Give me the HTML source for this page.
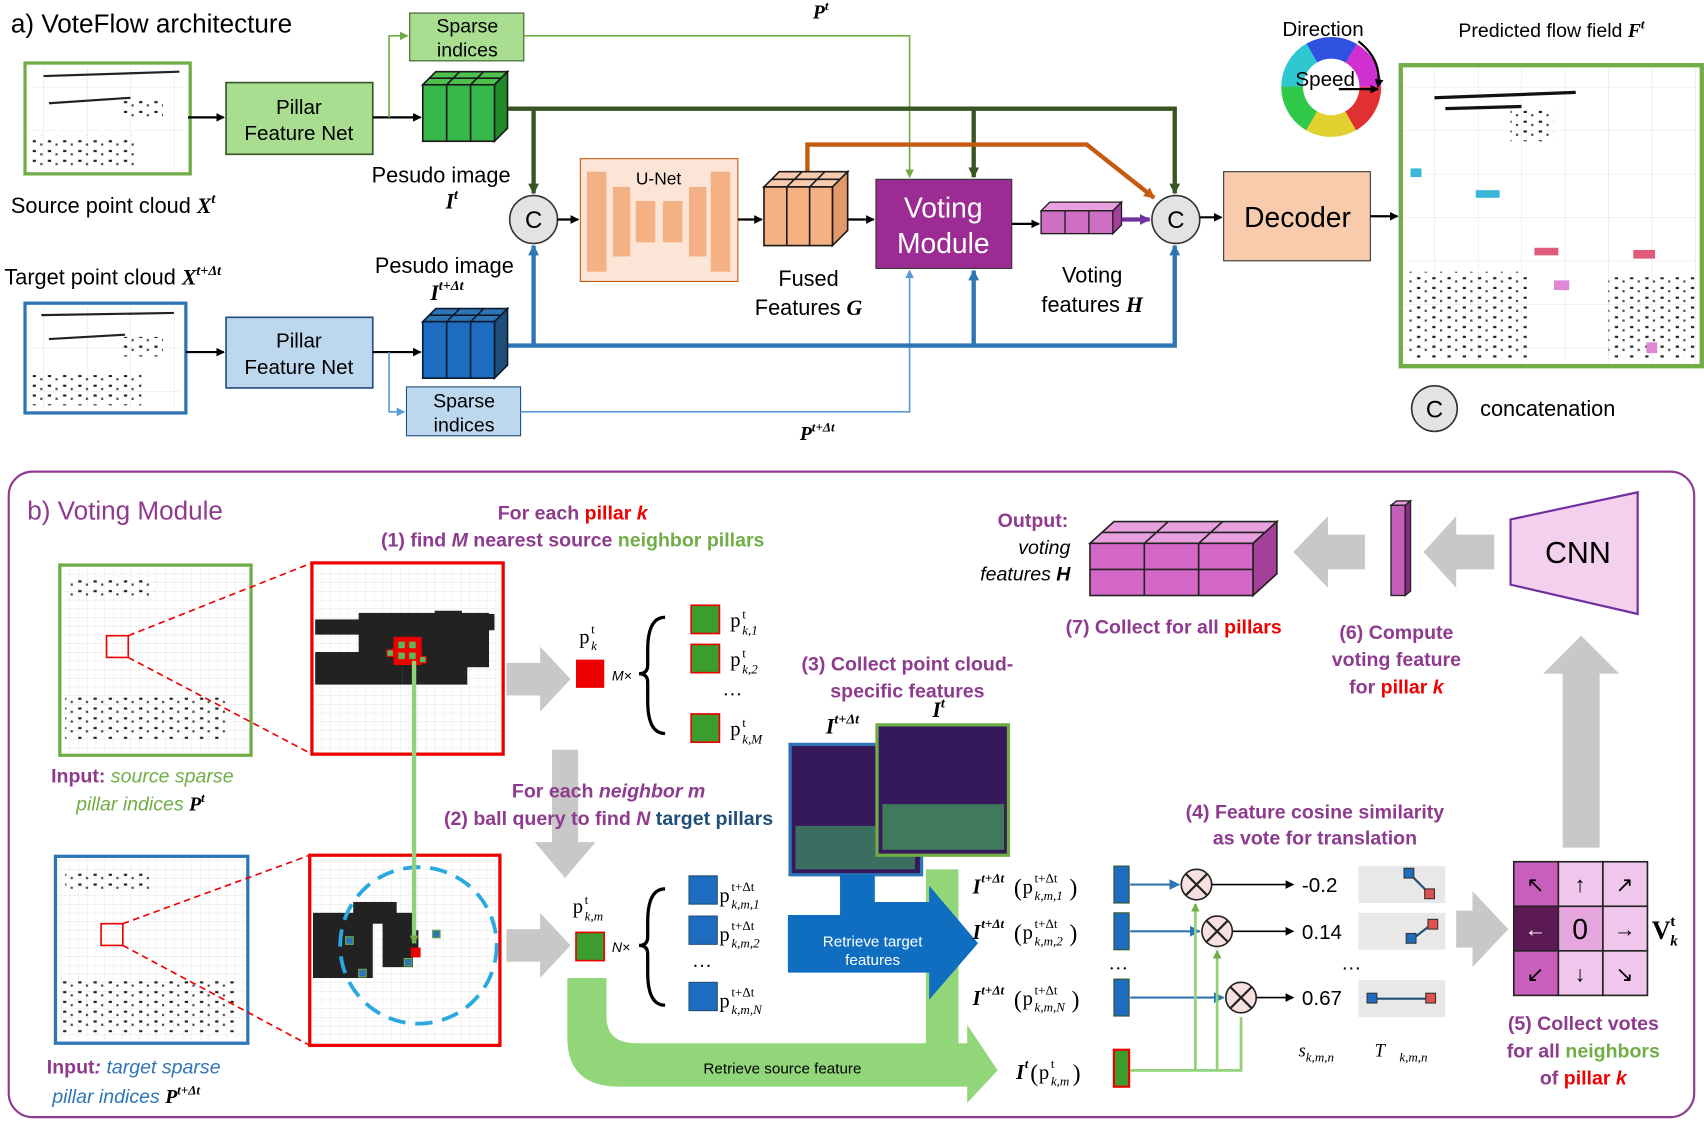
<!DOCTYPE html>
<html><head><meta charset="utf-8"><style>
html,body{margin:0;padding:0;background:#fff}
svg{display:block}
text{font-family:"Liberation Sans",sans-serif}
.s{font-family:"Liberation Serif",serif;font-style:italic;font-weight:bold}
.r{font-family:"Liberation Serif",serif}
</style></head><body>
<svg width="1704" height="1122" viewBox="0 0 1568 1032.5" xmlns="http://www.w3.org/2000/svg">
<defs>
<marker id="ak" markerWidth="8" markerHeight="8" refX="7" refY="4" orient="auto" markerUnits="userSpaceOnUse"><path d="M0,0 L8,4 L0,8z" fill="#000"/></marker>
<marker id="ag" markerWidth="10" markerHeight="10" refX="9" refY="5" orient="auto" markerUnits="userSpaceOnUse"><path d="M0,0 L10,5 L0,10z" fill="#375623"/></marker>
<marker id="ab" markerWidth="10" markerHeight="10" refX="9" refY="5" orient="auto" markerUnits="userSpaceOnUse"><path d="M0,0 L10,5 L0,10z" fill="#2e75b6"/></marker>
<marker id="alg" markerWidth="8" markerHeight="8" refX="7" refY="4" orient="auto" markerUnits="userSpaceOnUse"><path d="M0,0 L8,4 L0,8z" fill="#70ad47"/></marker>
<marker id="alb" markerWidth="8" markerHeight="8" refX="7" refY="4" orient="auto" markerUnits="userSpaceOnUse"><path d="M0,0 L8,4 L0,8z" fill="#5b9bd5"/></marker>
<marker id="ao" markerWidth="10" markerHeight="10" refX="9" refY="5" orient="auto" markerUnits="userSpaceOnUse"><path d="M0,0 L10,5 L0,10z" fill="#c55a11"/></marker>
<marker id="ap" markerWidth="10" markerHeight="10" refX="9" refY="5" orient="auto" markerUnits="userSpaceOnUse"><path d="M0,0 L10,5 L0,10z" fill="#7030a0"/></marker>
<pattern id="grid" width="8" height="8" patternUnits="userSpaceOnUse"><path d="M8,0 L0,0 0,8" fill="none" stroke="#ddd" stroke-width="0.6"/></pattern>
<pattern id="gridl" width="40" height="40" patternUnits="userSpaceOnUse"><path d="M40,0 L0,0 0,40" fill="none" stroke="#ddd" stroke-width="0.8"/></pattern>
<pattern id="dots" width="14" height="9" patternUnits="userSpaceOnUse"><rect x="2" y="3" width="3" height="2" fill="#222"/><rect x="9" y="6" width="2" height="2" fill="#444"/></pattern>
</defs>

<!-- ===== Part a ===== -->
<text x="10" y="30" font-size="24">a) VoteFlow architecture</text>

<rect x="23" y="58" width="152" height="102" fill="#fff" stroke="#70ad47" stroke-width="3"/>
<rect x="28" y="62" width="142" height="94" fill="url(#gridl)"/>
<path d="M40,70 L165,66 M45,95 L120,90" stroke="#222" stroke-width="2"/>
<rect x="30" y="125" width="95" height="28" fill="url(#dots)"/>
<rect x="110" y="90" width="40" height="20" fill="url(#dots)"/>
<text x="10" y="196" font-size="20">Source point cloud <tspan class="s">X</tspan><tspan class="s" font-size="13" dy="-9">t</tspan></text>

<rect x="23" y="279" width="148" height="101" fill="#fff" stroke="#2e75b6" stroke-width="3"/>
<rect x="28" y="283" width="138" height="93" fill="url(#gridl)"/>
<path d="M38,290 L160,288 M45,312 L115,308" stroke="#222" stroke-width="2"/>
<rect x="30" y="345" width="100" height="28" fill="url(#dots)"/>
<rect x="110" y="310" width="40" height="18" fill="url(#dots)"/>
<text x="4" y="262" font-size="20">Target point cloud <tspan class="s">X</tspan><tspan class="s" font-size="13" dy="-9">t+Δt</tspan></text>

<rect x="208" y="76" width="135" height="66" fill="#a9dd8f" stroke="#375623" stroke-width="1.5"/>
<text x="275" y="105" font-size="19" text-anchor="middle">Pillar</text><text x="275" y="129" font-size="19" text-anchor="middle">Feature Net</text>
<rect x="208" y="292" width="135" height="65" fill="#bdd7ee" stroke="#1f4e79" stroke-width="1.5"/>
<text x="275" y="320" font-size="19" text-anchor="middle">Pillar</text><text x="275" y="344" font-size="19" text-anchor="middle">Feature Net</text>
<line x1="173" y1="108" x2="206" y2="108" stroke="#000" stroke-width="2" marker-end="url(#ak)"/>
<line x1="171" y1="324" x2="206" y2="324" stroke="#000" stroke-width="2" marker-end="url(#ak)"/>
<line x1="343" y1="108" x2="387" y2="108" stroke="#000" stroke-width="2" marker-end="url(#ak)"/>
<line x1="343" y1="324" x2="387" y2="324" stroke="#000" stroke-width="2" marker-end="url(#ak)"/>

<rect x="377" y="12" width="105" height="44" fill="#a9dd8f" stroke="#375623" stroke-width="1"/>
<text x="430" y="30" font-size="18" text-anchor="middle">Sparse</text><text x="430" y="52" font-size="18" text-anchor="middle">indices</text>
<rect x="374" y="356" width="105" height="45" fill="#bdd7ee" stroke="#1f4e79" stroke-width="1"/>
<text x="427" y="375" font-size="18" text-anchor="middle">Sparse</text><text x="427" y="397" font-size="18" text-anchor="middle">indices</text>
<polyline points="358,108 358,33 375,33" fill="none" stroke="#70ad47" stroke-width="1.5" marker-end="url(#alg)"/>
<polyline points="358,324 358,379 372,379" fill="none" stroke="#5b9bd5" stroke-width="1.5" marker-end="url(#alb)"/>
<polyline points="482,33 837,33 837,163" fill="none" stroke="#70ad47" stroke-width="1.5" marker-end="url(#alg)"/>
<polyline points="479,379 837,379 837,249" fill="none" stroke="#5b9bd5" stroke-width="1.5" marker-end="url(#alb)"/>
<text x="748" y="17" class="s" font-size="18">P<tspan font-size="12" dy="-8">t</tspan></text>
<text x="736" y="405" class="s" font-size="18">P<tspan font-size="12" dy="-8">t+Δt</tspan></text>

<polyline points="467,100 1081,100 1081,178" fill="none" stroke="#375623" stroke-width="4" marker-end="url(#ag)"/>
<line x1="491" y1="100" x2="491" y2="178" stroke="#375623" stroke-width="4" marker-end="url(#ag)"/>
<line x1="896" y1="100" x2="896" y2="163" stroke="#375623" stroke-width="4" marker-end="url(#ag)"/>
<polyline points="467,318 1081,318 1081,226" fill="none" stroke="#2e75b6" stroke-width="4" marker-end="url(#ab)"/>
<line x1="491" y1="318" x2="491" y2="226" stroke="#2e75b6" stroke-width="4" marker-end="url(#ab)"/>
<line x1="896" y1="318" x2="896" y2="249" stroke="#2e75b6" stroke-width="4" marker-end="url(#ab)"/>
<polyline points="743,165 743,133 1000,133 1062,182" fill="none" stroke="#c55a11" stroke-width="4" marker-end="url(#ao)"/>

<g stroke="#1a1a1a" stroke-width="1.5">
<polygon points="389,78 401,66 467,66 455,78" fill="#4cc14c"/>
<polygon points="455,78 467,66 467,118 455,130" fill="#1f8a2a"/>
<rect x="389" y="78" width="66" height="52" fill="#38b84a"/>
<path d="M411,78 V130 M433,78 V130 M395,72 H461 M411,78 L423,66 M433,78 L445,66"/>
</g>
<g stroke="#0a1a30" stroke-width="1.5">
<polygon points="389,296 401,284 467,284 455,296" fill="#2e75b6"/>
<polygon points="455,296 467,284 467,336 455,348" fill="#1f4e79"/>
<rect x="389" y="296" width="66" height="52" fill="#1d6cc0"/>
<path d="M411,296 V348 M433,296 V348 M395,290 H461 M411,296 L423,284 M433,296 L445,284"/>
</g>
<text x="342" y="168" font-size="20">Pesudo image</text>
<text x="410" y="192" class="s" font-size="20">I<tspan font-size="13" dy="-9">t</tspan></text>
<text x="345" y="251" font-size="20">Pesudo image</text>
<text x="396" y="276" class="s" font-size="20">I<tspan font-size="13" dy="-9">t+Δt</tspan></text>

<circle cx="491" cy="202" r="22" fill="#e3e3e3" stroke="#333" stroke-width="1.5"/><text x="491" y="210" font-size="22" text-anchor="middle">C</text>
<line x1="513" y1="202" x2="532" y2="202" stroke="#000" stroke-width="2" marker-end="url(#ak)"/>

<rect x="534" y="146" width="145" height="113" fill="#fce4d6" stroke="#c55a11" stroke-width="1"/>
<text x="606" y="170" font-size="16" text-anchor="middle">U-Net</text>
<g fill="#f4b183"><rect x="540" y="158" width="18" height="92"/><rect x="564" y="172" width="16" height="64"/><rect x="585" y="185" width="18" height="38"/><rect x="610" y="185" width="18" height="38"/><rect x="634" y="172" width="16" height="64"/><rect x="654" y="158" width="18" height="92"/></g>
<line x1="679" y1="202" x2="701" y2="202" stroke="#000" stroke-width="2" marker-end="url(#ak)"/>

<g stroke="#1a1a1a" stroke-width="1.5">
<polygon points="703,172 717,158 780,158 766,172" fill="#f8cbad"/>
<polygon points="766,172 780,158 780,212 766,226" fill="#e4996a"/>
<rect x="703" y="172" width="63" height="54" fill="#f4b183"/>
<path d="M724,172 V226 M745,172 V226 M710,165 H773 M724,172 L738,158 M745,172 L759,158"/>
</g>
<line x1="780" y1="202" x2="804" y2="202" stroke="#000" stroke-width="2" marker-end="url(#ak)"/>
<text x="744" y="263" font-size="20" text-anchor="middle">Fused</text>
<text x="744" y="290" font-size="20" text-anchor="middle">Features <tspan class="s">G</tspan></text>

<rect x="806" y="165" width="125" height="82" fill="#9c2b93" stroke="#333" stroke-width="1"/>
<text x="868" y="200" font-size="26" fill="#fff" text-anchor="middle">Voting</text>
<text x="868" y="233" font-size="26" fill="#fff" text-anchor="middle">Module</text>
<line x1="931" y1="206" x2="956" y2="206" stroke="#000" stroke-width="2" marker-end="url(#ak)"/>
<g stroke="#1a1a1a" stroke-width="1.2">
<polygon points="958,194 966,186 1032,186 1024,194" fill="#e8a0df"/>
<polygon points="1024,194 1032,186 1032,207 1024,215" fill="#a5409a"/>
<rect x="958" y="194" width="66" height="21" fill="#cf6fc3"/>
<path d="M980,194 V215 M1002,194 V215"/>
</g>
<line x1="1032" y1="202" x2="1058" y2="202" stroke="#7030a0" stroke-width="4" marker-end="url(#ap)"/>
<text x="1005" y="260" font-size="20" text-anchor="middle">Voting</text>
<text x="1005" y="287" font-size="20" text-anchor="middle">features <tspan class="s">H</tspan></text>

<circle cx="1082" cy="202" r="22" fill="#e3e3e3" stroke="#333" stroke-width="1.5"/><text x="1082" y="210" font-size="22" text-anchor="middle">C</text>
<line x1="1104" y1="200" x2="1124" y2="200" stroke="#000" stroke-width="2" marker-end="url(#ak)"/>
<rect x="1126" y="158" width="135" height="82" fill="#f8cbad" stroke="#333" stroke-width="1"/>
<text x="1194" y="209" font-size="26" text-anchor="middle">Decoder</text>
<line x1="1261" y1="199" x2="1286" y2="199" stroke="#000" stroke-width="2" marker-end="url(#ak)"/>

<rect x="1289" y="60" width="277" height="277" fill="#fff" stroke="#70ad47" stroke-width="4"/>
<rect x="1292" y="63" width="271" height="271" fill="url(#gridl)"/>
<path d="M1320,90 L1450,85 M1330,100 L1400,98" stroke="#111" stroke-width="3"/>
<rect x="1295" y="250" width="110" height="80" fill="url(#dots)"/>
<rect x="1390" y="100" width="40" height="30" fill="url(#dots)"/>
<rect x="1480" y="255" width="80" height="75" fill="url(#dots)"/>
<rect x="1298" y="155" width="10" height="8" fill="#3ab7d8"/><rect x="1358" y="175" width="22" height="7" fill="#3ab7d8"/>
<rect x="1412" y="228" width="22" height="7" fill="#e05b7a"/><rect x="1503" y="230" width="20" height="8" fill="#e05b7a"/>
<rect x="1430" y="258" width="14" height="9" fill="#e088d8"/><rect x="1515" y="315" width="10" height="10" fill="#e088d8"/>
<text x="1342" y="34" font-size="18">Predicted flow field <tspan class="s">F</tspan><tspan class="s" font-size="12" dy="-8">t</tspan></text>
<text x="1180" y="33" font-size="19">Direction</text>
<g fill="none" stroke-width="20">
<circle cx="1225" cy="80" r="36" stroke="#e03030" stroke-dasharray="38 188"/>
<circle cx="1225" cy="80" r="36" stroke="#e0d030" stroke-dasharray="0 37.7 38 188"/>
<circle cx="1225" cy="80" r="36" stroke="#30c848" stroke-dasharray="0 75.4 38 188"/>
<circle cx="1225" cy="80" r="36" stroke="#30c8d0" stroke-dasharray="0 113.1 38 188"/>
<circle cx="1225" cy="80" r="36" stroke="#3050e0" stroke-dasharray="0 150.8 38 188"/>
<circle cx="1225" cy="80" r="36" stroke="#d030d0" stroke-dasharray="0 188.5 38 188"/>
</g>
<text x="1192" y="79" font-size="19">Speed</text>
<line x1="1232" y1="82" x2="1268" y2="82" stroke="#000" stroke-width="2" marker-end="url(#ak)"/>
<path d="M1250,38 Q1272,55 1268,80" fill="none" stroke="#000" stroke-width="2" marker-end="url(#ak)"/>
<circle cx="1320" cy="376" r="21" fill="#e3e3e3" stroke="#333" stroke-width="1.5"/><text x="1320" y="384" font-size="22" text-anchor="middle">C</text>
<text x="1362" y="383" font-size="20">concatenation</text>

<!-- ===== Part b ===== -->
<rect x="8" y="434" width="1551" height="594" rx="22" fill="none" stroke="#8e3a8e" stroke-width="2"/>
<text x="25" y="478" font-size="24" fill="#8e3a8e">b) Voting Module</text>

<rect x="55" y="520" width="176" height="175" fill="#fff" stroke="#70ad47" stroke-width="3"/>
<rect x="58" y="523" width="170" height="169" fill="url(#grid)"/>
<rect x="62" y="530" width="80" height="20" fill="url(#dots)"/><rect x="60" y="640" width="150" height="40" fill="url(#dots)"/>
<rect x="98" y="585" width="20" height="20" fill="none" stroke="#e00" stroke-width="1.5"/>
<path d="M118,585 L287,518 M118,605 L287,694" stroke="#e00" stroke-width="1.5" stroke-dasharray="6 4"/>
<rect x="287" y="518" width="176" height="176" fill="#fff" stroke="#e00" stroke-width="3"/>
<rect x="290" y="521" width="170" height="170" fill="url(#grid)"/>
<g fill="#222"><rect x="290" y="570" width="130" height="14"/><rect x="330" y="564" width="120" height="50"/><rect x="290" y="600" width="80" height="30"/><rect x="370" y="612" width="60" height="18"/><rect x="400" y="562" width="25" height="10"/><rect x="440" y="565" width="15" height="15"/></g>
<rect x="362" y="586" width="26" height="26" fill="#e00"/>
<g fill="#5cb85c" stroke="#e00" stroke-width="1"><rect x="366" y="590" width="7" height="7"/><rect x="376" y="590" width="7" height="7"/><rect x="366" y="600" width="7" height="7"/><rect x="376" y="600" width="7" height="7"/><rect x="386" y="604" width="6" height="6"/><rect x="356" y="598" width="6" height="6"/></g>
<text x="47" y="720" font-size="18" fill="#8e3a8e" font-weight="bold">Input: <tspan fill="#70ad47" font-weight="normal" font-style="italic">source sparse</tspan></text>
<text x="70" y="746" font-size="18" fill="#70ad47" font-style="italic">pillar indices <tspan class="s" fill="#000">P</tspan><tspan class="s" fill="#000" font-size="12" dy="-8">t</tspan></text>

<rect x="51" y="788" width="177" height="172" fill="#fff" stroke="#2e75b6" stroke-width="3"/>
<rect x="54" y="791" width="171" height="166" fill="url(#grid)"/>
<rect x="60" y="800" width="80" height="18" fill="url(#dots)"/><rect x="56" y="900" width="160" height="50" fill="url(#dots)"/>
<rect x="93" y="850" width="20" height="20" fill="none" stroke="#e00" stroke-width="1.5"/>
<path d="M113,850 L285,787 M113,870 L285,962" stroke="#e00" stroke-width="1.5" stroke-dasharray="6 4"/>
<rect x="285" y="787" width="175" height="175" fill="#fff" stroke="#e00" stroke-width="3"/>
<rect x="288" y="790" width="169" height="169" fill="url(#grid)"/>
<g fill="#222"><rect x="288" y="840" width="55" height="60"/><rect x="325" y="830" width="40" height="20"/><rect x="352" y="840" width="28" height="50"/><rect x="370" y="856" width="15" height="20"/></g>
<circle cx="385" cy="870" r="72" fill="none" stroke="#29a9e0" stroke-width="3.5" stroke-dasharray="16 9"/>
<g fill="#2e75b6" stroke="#70ad47"><rect x="318" y="862" width="7" height="7"/><rect x="330" y="892" width="7" height="7"/><rect x="372" y="882" width="7" height="7"/><rect x="398" y="856" width="7" height="7"/></g>
<rect x="378" y="872" width="9" height="9" fill="#e00"/>
<line x1="381" y1="608" x2="381" y2="868" stroke="#8fd27a" stroke-width="4" marker-end="url(#alg)"/>
<text x="43" y="988" font-size="18" fill="#8e3a8e" font-weight="bold">Input<tspan font-style="italic">: </tspan><tspan fill="#2e75b6" font-weight="normal" font-style="italic">target sparse</tspan></text>
<text x="48" y="1015" font-size="18" fill="#2e75b6" font-style="italic">pillar indices <tspan class="s" fill="#000">P</tspan><tspan class="s" fill="#000" font-size="12" dy="-8">t+Δt</tspan></text>

<g fill="#c8c8c8">
<polygon points="466,610 497,610 497,595 525,625 497,655 497,640 466,640"/>
<polygon points="466,855 497,855 497,840 525,870 497,900 497,885 466,885"/>
<polygon points="508,690 532,690 532,775 548,775 520,808 492,775 508,775"/>
<polygon points="1340,838 1355,838 1355,820 1388,855 1355,890 1355,872 1340,872"/>
<polygon points="1438,780 1472,780 1472,620 1490,620 1455,585 1420,620 1438,620"/>
<polygon points="1375,492 1340,492 1340,475 1310,508 1340,541 1340,524 1375,524"/>
<polygon points="1256,492 1222,492 1222,475 1190,508 1222,541 1222,524 1256,524"/>
</g>

<text x="527" y="478" font-size="18" fill="#8e3a8e" font-weight="bold" text-anchor="middle">For each <tspan fill="#e00">pillar <tspan font-style="italic">k</tspan></tspan></text>
<text x="527" y="503" font-size="18" fill="#8e3a8e" font-weight="bold" text-anchor="middle">(1) find <tspan font-style="italic">M</tspan> nearest source <tspan fill="#70ad47">neighbor pillars</tspan></text>
<text x="560" y="734" font-size="18" fill="#8e3a8e" font-weight="bold" text-anchor="middle">For each <tspan font-style="italic">neighbor m</tspan></text>
<text x="560" y="759" font-size="18" fill="#8e3a8e" font-weight="bold" text-anchor="middle">(2) ball query to find <tspan font-style="italic">N</tspan> <tspan fill="#1f4e79">target pillars</tspan></text>
<text x="835" y="617" font-size="18" fill="#8e3a8e" font-weight="bold" text-anchor="middle">(3) Collect point cloud-</text>
<text x="835" y="642" font-size="18" fill="#8e3a8e" font-weight="bold" text-anchor="middle">specific features</text>

<!-- p_k -->
<g class="r">
<text x="533" y="592" font-size="19" class="r">p</text><text x="544" y="583" font-size="12" class="r">t</text><text x="544" y="598" font-size="12" font-style="italic" class="r">k</text>
</g>
<rect x="530" y="607" width="26" height="26" fill="#e00"/>
<text x="563" y="626" font-size="13" font-style="italic">M×</text>
<path d="M612,568 Q596,568 596,598 L596,612 Q596,620 588,620 Q596,620 596,628 L596,645 Q596,675 612,675" fill="none" stroke="#000" stroke-width="3"/>
<g fill="#3c9c2e" stroke="#e00" stroke-width="1.5"><rect x="636" y="557" width="26" height="26"/><rect x="636" y="593" width="26" height="26"/><rect x="636" y="657" width="26" height="26"/></g>
<g class="r">
<text x="672" y="577" font-size="19" class="r">p</text><text x="683" y="569" font-size="12" class="r">t</text><text x="683" y="584" font-size="12" font-style="italic" class="r">k,1</text>
<text x="672" y="613" font-size="19" class="r">p</text><text x="683" y="605" font-size="12" class="r">t</text><text x="683" y="620" font-size="12" font-style="italic" class="r">k,2</text>
<text x="665" y="640" font-size="18" class="r">…</text>
<text x="672" y="677" font-size="19" class="r">p</text><text x="683" y="669" font-size="12" class="r">t</text><text x="683" y="684" font-size="12" font-style="italic" class="r">k,M</text>
</g>

<!-- p_km -->
<text x="527" y="840" font-size="19" class="r">p</text><text x="538" y="832" font-size="12" class="r">t</text><text x="538" y="847" font-size="12" font-style="italic" class="r">k,m</text>
<rect x="530" y="858" width="26" height="26" fill="#3c9c2e" stroke="#e00" stroke-width="1.5"/>
<text x="563" y="876" font-size="13" font-style="italic">N×</text>
<path d="M612,818 Q596,818 596,848 L596,862 Q596,870 588,870 Q596,870 596,878 L596,895 Q596,925 612,925" fill="none" stroke="#000" stroke-width="3"/>
<g fill="#1d6cc0" stroke="#1f4e79"><rect x="634" y="806" width="26" height="26"/><rect x="634" y="843" width="26" height="26"/><rect x="634" y="904" width="26" height="26"/></g>
<text x="662" y="830" font-size="19" class="r">p</text><text x="673" y="820" font-size="12" class="r">t+Δt</text><text x="673" y="836" font-size="12" font-style="italic" class="r">k,m,1</text>
<text x="662" y="866" font-size="19" class="r">p</text><text x="673" y="856" font-size="12" class="r">t+Δt</text><text x="673" y="872" font-size="12" font-style="italic" class="r">k,m,2</text>
<text x="637" y="890" font-size="18" class="r">…</text>
<text x="662" y="927" font-size="19" class="r">p</text><text x="673" y="917" font-size="12" class="r">t+Δt</text><text x="673" y="933" font-size="12" font-style="italic" class="r">k,m,N</text>

<!-- big green arrow -->
<path d="M522,900 L558,900 L558,935 Q558,960 585,960 L890,960 L890,943 L918,985 L890,1015 L890,1000 L570,1000 Q522,1000 522,955 Z" fill="#92d67a"/>
<rect x="852" y="800" width="30" height="170" fill="#92d67a"/>
<text x="720" y="988" font-size="14" text-anchor="middle">Retrieve source feature</text>

<rect x="727" y="685" width="121" height="120" fill="#35195a" stroke="#2e75b6" stroke-width="3"/>
<rect x="732" y="760" width="110" height="40" fill="#3b6e60"/>
<rect x="807" y="667" width="121" height="120" fill="#35195a" stroke="#70ad47" stroke-width="3"/>
<rect x="812" y="740" width="112" height="42" fill="#3f7a5c"/>
<text x="760" y="675" class="s" font-size="20">I<tspan font-size="13" dy="-9">t+Δt</tspan></text>
<text x="858" y="660" class="s" font-size="20">I<tspan font-size="13" dy="-9">t</tspan></text>
<path d="M773,805 L805,805 L805,830 L855,830 L855,815 L900,868 L855,920 L855,895 L725,895 L725,842 L773,842 Z" fill="#0f6ec0"/>
<text x="803" y="871" font-size="14" fill="#fff" text-anchor="middle">Retrieve target</text>
<text x="803" y="888" font-size="14" fill="#fff" text-anchor="middle">features</text>

<!-- features list -->
<g>
<text x="895" y="822" class="s" font-size="19">I</text><text x="903" y="812" class="s" font-size="12">t+Δt</text><text x="933" y="824" class="r" font-size="22">(</text><text x="941" y="822" class="r" font-size="19">p</text><text x="952" y="812" class="r" font-size="12">t+Δt</text><text x="952" y="828" class="r" font-size="12" font-style="italic">k,m,1</text><text x="984" y="824" class="r" font-size="22">)</text>
<text x="895" y="864" class="s" font-size="19">I</text><text x="903" y="854" class="s" font-size="12">t+Δt</text><text x="933" y="866" class="r" font-size="22">(</text><text x="941" y="864" class="r" font-size="19">p</text><text x="952" y="854" class="r" font-size="12">t+Δt</text><text x="952" y="870" class="r" font-size="12" font-style="italic">k,m,2</text><text x="984" y="866" class="r" font-size="22">)</text>
<text x="1020" y="892" class="r" font-size="18">…</text>
<text x="895" y="925" class="s" font-size="19">I</text><text x="903" y="915" class="s" font-size="12">t+Δt</text><text x="933" y="927" class="r" font-size="22">(</text><text x="941" y="925" class="r" font-size="19">p</text><text x="952" y="915" class="r" font-size="12">t+Δt</text><text x="952" y="931" class="r" font-size="12" font-style="italic">k,m,N</text><text x="986" y="927" class="r" font-size="22">)</text>
<text x="935" y="993" class="s" font-size="19">I</text><text x="943" y="983" class="s" font-size="12">t</text><text x="948" y="995" class="r" font-size="22">(</text><text x="956" y="993" class="r" font-size="19">p</text><text x="967" y="983" class="r" font-size="12">t</text><text x="967" y="999" class="r" font-size="12" font-style="italic">k,m</text><text x="987" y="995" class="r" font-size="22">)</text>
</g>
<g stroke="#375623" stroke-width="1"><rect x="1025" y="797" width="14" height="34" fill="#1d6cc0"/><rect x="1025" y="840" width="14" height="34" fill="#1d6cc0"/><rect x="1025" y="901" width="14" height="34" fill="#1d6cc0"/></g>
<rect x="1025" y="966" width="14" height="34" fill="#3c9c2e" stroke="#e00" stroke-width="2"/>
<g stroke="#2e75b6" stroke-width="2" fill="none"><line x1="1040" y1="814" x2="1085" y2="814" marker-end="url(#ab)"/><line x1="1040" y1="857" x2="1104" y2="857" marker-end="url(#ab)"/><line x1="1040" y1="918" x2="1126" y2="918" marker-end="url(#ab)"/></g>
<g stroke="#8fd27a" stroke-width="2.5" fill="none"><polyline points="1040,985 1142,985 1142,936"/><line x1="1100" y1="985" x2="1100" y2="832" marker-end="url(#alg)"/><line x1="1120" y1="985" x2="1120" y2="875" marker-end="url(#alg)"/></g>
<g fill="#f6e0e0" stroke="#222" stroke-width="1.5"><circle cx="1101" cy="814" r="14"/><circle cx="1120" cy="857" r="14"/><circle cx="1142" cy="918" r="14"/></g>
<g stroke="#222" stroke-width="2"><path d="M1091,804 L1111,824 M1111,804 L1091,824"/><path d="M1110,847 L1130,867 M1130,847 L1110,867"/><path d="M1132,908 L1152,928 M1152,908 L1132,928"/></g>
<g stroke="#000" stroke-width="1.5"><line x1="1115" y1="814" x2="1190" y2="814" marker-end="url(#ak)"/><line x1="1134" y1="857" x2="1190" y2="857" marker-end="url(#ak)"/><line x1="1156" y1="918" x2="1190" y2="918" marker-end="url(#ak)"/></g>
<g font-size="19"><text x="1198" y="821">-0.2</text><text x="1198" y="864">0.14</text><text x="1234" y="892">…</text><text x="1198" y="925">0.67</text></g>
<g fill="#e8e8e8"><rect x="1250" y="797" width="80" height="34"/><rect x="1250" y="840" width="80" height="34"/><rect x="1250" y="902" width="80" height="34"/></g>
<g stroke="#1f4e79" stroke-width="2"><line x1="1315" y1="822" x2="1297" y2="804"/><line x1="1318" y1="850" x2="1300" y2="864"/><line x1="1316" y1="919" x2="1264" y2="919"/></g>
<g fill="#e05050" stroke="#333"><rect x="1311" y="818" width="9" height="9"/><rect x="1314" y="846" width="9" height="9"/><rect x="1312" y="914" width="9" height="9"/></g>
<g fill="#1d6cc0" stroke="#333"><rect x="1292" y="799" width="9" height="9"/><rect x="1294" y="859" width="9" height="9"/><rect x="1258" y="914" width="9" height="9"/></g>
<text x="1195" y="972" font-size="17" class="r" font-style="italic">s<tspan font-size="12" dy="5">k,m,n</tspan></text>
<text x="1265" y="972" font-size="17" class="r" font-style="italic">T⃗<tspan font-size="12" dy="5">k,m,n</tspan></text>

<g stroke="#222" stroke-width="1.5">
<rect x="1393" y="793" width="41" height="41" fill="#c95fbd"/><rect x="1434" y="793" width="41" height="41" fill="#f0c6ec"/><rect x="1475" y="793" width="41" height="41" fill="#f0c6ec"/>
<rect x="1393" y="834" width="41" height="41" fill="#5c1a54"/><rect x="1434" y="834" width="41" height="41" fill="#e6a6de"/><rect x="1475" y="834" width="41" height="41" fill="#f0c6ec"/>
<rect x="1393" y="875" width="41" height="41" fill="#c95fbd"/><rect x="1434" y="875" width="41" height="41" fill="#f0c6ec"/><rect x="1475" y="875" width="41" height="41" fill="#f0c6ec"/>
</g>
<g font-size="20" text-anchor="middle" font-family="DejaVu Sans,sans-serif"><text x="1413" y="821">↖</text><text x="1454" y="821">↑</text><text x="1495" y="821">↗</text><text x="1413" y="862" fill="#fff">←</text><text x="1454" y="864" font-size="26" font-family="Liberation Sans">0</text><text x="1495" y="862">→</text><text x="1413" y="903">↙</text><text x="1454" y="903">↓</text><text x="1495" y="903">↘</text></g>
<text x="1520" y="864" font-size="24" class="r" font-weight="bold">V</text><text x="1537" y="852" font-size="14" class="r" font-weight="bold">t</text><text x="1537" y="870" font-size="14" class="r" font-weight="bold" font-style="italic">k</text>
<text x="1457" y="948" font-size="18" fill="#8e3a8e" font-weight="bold" text-anchor="middle">(5) Collect votes</text>
<text x="1457" y="973" font-size="18" fill="#8e3a8e" font-weight="bold" text-anchor="middle">for all <tspan fill="#70ad47">neighbors</tspan></text>
<text x="1457" y="998" font-size="18" fill="#8e3a8e" font-weight="bold" text-anchor="middle">of <tspan fill="#e00">pillar <tspan font-style="italic">k</tspan></tspan></text>

<polygon points="1390,478 1507,453 1507,565 1390,538" fill="#f2d0ee" stroke="#7030a0" stroke-width="2"/>
<text x="1452" y="518" font-size="28" text-anchor="middle">CNN</text>
<g stroke="#222" stroke-width="1.2"><polygon points="1280,465 1285,461 1298,461 1293,465" fill="#e8a0df"/><polygon points="1293,465 1298,461 1298,544 1293,548" fill="#8a2a80"/><rect x="1280" y="465" width="13" height="83" fill="#c35fba"/></g>
<text x="1285" y="588" font-size="18" fill="#8e3a8e" font-weight="bold" text-anchor="middle">(6) Compute</text>
<text x="1285" y="613" font-size="18" fill="#8e3a8e" font-weight="bold" text-anchor="middle">voting feature</text>
<text x="1285" y="638" font-size="18" fill="#8e3a8e" font-weight="bold" text-anchor="middle">for <tspan fill="#e00">pillar <tspan font-style="italic">k</tspan></tspan></text>

<g stroke="#222" stroke-width="1.5">
<polygon points="1003,500 1025,480 1175,480 1153,500" fill="#e8a0df"/>
<polygon points="1153,500 1175,480 1175,528 1153,548" fill="#a5409a"/>
<rect x="1003" y="500" width="150" height="48" fill="#d466c8"/>
<path d="M1053,500 V548 M1103,500 V548 M1003,524 H1153 M1014,490 H1164 M1053,500 L1075,480 M1103,500 L1125,480"/>
</g>
<text x="983" y="485" font-size="18" fill="#8e3a8e" font-weight="bold" text-anchor="end">Output:</text>
<text x="985" y="510" font-size="18" font-style="italic" text-anchor="end">voting</text>
<text x="985" y="534" font-size="18" font-style="italic" text-anchor="end">features <tspan font-weight="bold">H</tspan></text>
<text x="1080" y="583" font-size="18" fill="#8e3a8e" font-weight="bold" text-anchor="middle">(7) Collect for all <tspan fill="#e00">pillars</tspan></text>
<text x="1210" y="753" font-size="18" fill="#8e3a8e" font-weight="bold" text-anchor="middle">(4) Feature cosine similarity</text>
<text x="1210" y="777" font-size="18" fill="#8e3a8e" font-weight="bold" text-anchor="middle">as vote for translation</text>
</svg>
</body></html>
